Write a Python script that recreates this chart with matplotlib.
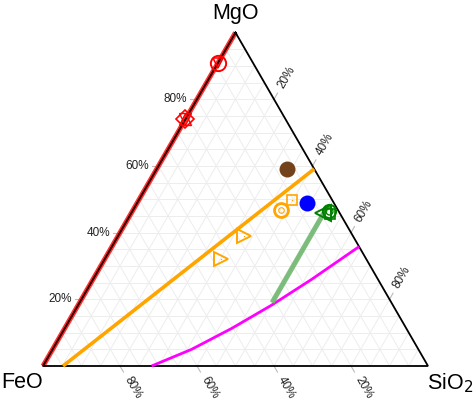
import numpy as np
import matplotlib
matplotlib.use("Agg")
import matplotlib.pyplot as plt

plt.rcParams['font.family'] = ['Liberation Sans', 'DejaVu Sans']

# ---- data (fractions: MgO, FeO, SiO2) ----
tick_values = [0.2, 0.4, 0.6, 0.8]
tick_labels = ["20%", "40%", "60%", "80%"]

red_join_mgo = [0.0, 1.0]
red_join_feo = [1.0, 0.0]
red_join_sio2 = [0.0, 0.0]

orange_mgo = [0.0, 0.591]
orange_feo = [0.948, 0.0]
orange_sio2 = [0.052, 0.409]

magenta_mgo = [0.0, 0.050, 0.113, 0.183, 0.260, 0.358]
magenta_feo = [0.718, 0.589, 0.453, 0.314, 0.172, 0.0]
magenta_sio2 = [0.282, 0.361, 0.434, 0.503, 0.568, 0.642]

green_mgo = [0.19, 0.48]
green_feo = [0.31, 0.02]
green_sio2 = [0.50, 0.50]

brown_pt = (0.591, 0.071, 0.338)
blue_pt = (0.488, 0.071, 0.441)

orange_circle = (0.468, 0.148, 0.384)
orange_square = (0.498, 0.103, 0.399)
orange_tri = [(0.320, 0.378, 0.302), (0.390, 0.282, 0.328)]

green_tri = (0.459, 0.043, 0.498)
green_circle = (0.465, 0.025, 0.510)
green_square = (0.456, 0.027, 0.517)

red_upper = (0.91, 0.09, 0.0)
red_lower = (0.74, 0.26, 0.0)

S3 = np.sqrt(3) / 2


def tern(mgo, feo, sio2):
    mgo = np.asarray(mgo, float); feo = np.asarray(feo, float); sio2 = np.asarray(sio2, float)
    tot = mgo + feo + sio2
    t = mgo / tot; r = sio2 / tot
    return r + t / 2, t * S3


fig = plt.figure(figsize=(4.74, 4.05), dpi=100)
ax = fig.add_axes([0, 0, 1, 1])
ax.set_xlim(-43 / 385, (474 - 43) / 385)
ax.set_ylim(-39 / 385, 366 / 385)
ax.set_aspect('equal')
ax.axis('off')

# grid
for v in np.arange(0.05, 1.0, 0.05):
    lw = 0.7
    col = '#ededed'
    x, y = tern([v, v], [1 - v, 0], [0, 1 - v]); ax.plot(x, y, color=col, lw=lw, zorder=1)
    x, y = tern([1 - v, 0], [v, v], [0, 1 - v]); ax.plot(x, y, color=col, lw=lw, zorder=1)
    x, y = tern([1 - v, 0], [0, 1 - v], [v, v]); ax.plot(x, y, color=col, lw=lw, zorder=1)

# red join (behind left edge)
x, y = tern(red_join_mgo, red_join_feo, red_join_sio2)
ax.plot(x, y, color='#ff1a1a', lw=3.6, alpha=0.9, zorder=3, solid_capstyle='butt')

# triangle border
x, y = tern([1, 0, 0, 1], [0, 1, 0, 0], [0, 0, 1, 0])
ax.plot(x, y, color='black', lw=1.3, zorder=4, solid_joinstyle='miter')
x, y = tern(red_join_mgo, red_join_feo, red_join_sio2)
ax.plot(x, y, color='#4a0000', lw=0.9, zorder=4)

# ticks and labels
tl = 7 / 385
tcol = '#bbbbbb'
lab_kw = dict(fontsize=8.5, color='#222222')
for v, lab in zip(tick_values, tick_labels):
    x0, y0 = tern(v, 1 - v, 0)
    ax.plot([x0, x0 - tl], [y0, y0], color=tcol, lw=0.8, zorder=2)
    ax.text(x0 - tl - 3 / 385, y0, lab, ha='right', va='center', **lab_kw)
    x0, y0 = tern(0, v, 1 - v)
    dx, dy = 0.5, -S3
    ax.plot([x0, x0 + dx * tl], [y0, y0 + dy * tl], color=tcol, lw=0.8, zorder=2)
    d = 25 / 385
    ax.text(x0 + dx * d, y0 + dy * d, lab, ha='center', va='center', rotation=-60, **lab_kw)
    x0, y0 = tern(1 - v, 0, v)
    dx, dy = 0.5, S3
    ax.plot([x0, x0 + dx * tl], [y0, y0 + dy * tl], color=tcol, lw=0.8, zorder=2)
    ax.text(x0 + dx * d, y0 + dy * d, lab, ha='center', va='center', rotation=60, **lab_kw)

# corner labels
ax.text(0.5, (366 - 14) / 385, "MgO", ha='center', va='center', fontsize=15.5)
ax.text(-21 / 385, -17 / 385, "FeO", ha='center', va='center', fontsize=15.5)
ax.text(1 + 22 / 385, -17 / 385, "SiO$_2$", ha='center', va='center', fontsize=15.5)

# lines
x, y = tern(orange_mgo, orange_feo, orange_sio2)
ax.plot(x, y, color='#ffa500', lw=2.6, zorder=5, solid_capstyle='butt')
x, y = tern(magenta_mgo, magenta_feo, magenta_sio2)
ax.plot(x, y, color='#ff00ff', lw=2.0, zorder=5, solid_capstyle='butt', solid_joinstyle='round')
x, y = tern(green_mgo, green_feo, green_sio2)
ax.plot(x, y, color='#66b266', lw=3.6, alpha=0.85, zorder=5, solid_capstyle='butt')


def pt(p, marker, color, ms, filled=False, mew=1.2, z=6):
    x, y = tern(*p)
    if filled:
        ax.plot(x, y, marker=marker, color=color, ms=ms, mew=0, ls='none', zorder=z)
    else:
        ax.plot(x, y, marker=marker, mfc='none', mec=color, ms=ms, mew=mew, ls='none', zorder=z)

pt(brown_pt, 'o', '#73421a', 11.5, filled=True)
pt(blue_pt, 'o', '#0000ff', 11.5, filled=True)

pt(orange_circle, 'o', '#ffa500', 10, mew=2.0)
pt(orange_circle, 'o', '#ffa500', 4, mew=0.8)
pt(orange_square, 's', '#ffa500', 7, mew=1.2)
pt(orange_square, '.', '#ffa500', 2, filled=True)
for p in orange_tri:
    pt(p, '>', '#ffa500', 10, mew=1.4)
    pt(p, '.', '#ffa500', 2, filled=True)

pt(green_tri, '<', '#008000', 11, mew=1.4)
pt(green_circle, 'o', '#008000', 9.5, mew=1.4)
pt(green_circle, 'o', '#008000', 5, mew=1.0)
pt(green_square, 's', '#008000', 7.5, mew=1.2)

pt(red_upper, 'o', '#ff0000', 11, mew=1.4)
pt(red_upper, 'v', '#ff0000', 7.5, mew=1.1)
pt(red_lower, 'D', '#ff0000', 9, mew=1.2)
pt(red_lower, '^', '#ff0000', 8, mew=1.0)
pt(red_lower, 'v', '#ff0000', 8, mew=1.0)

fig.savefig("out.png", dpi=100)
